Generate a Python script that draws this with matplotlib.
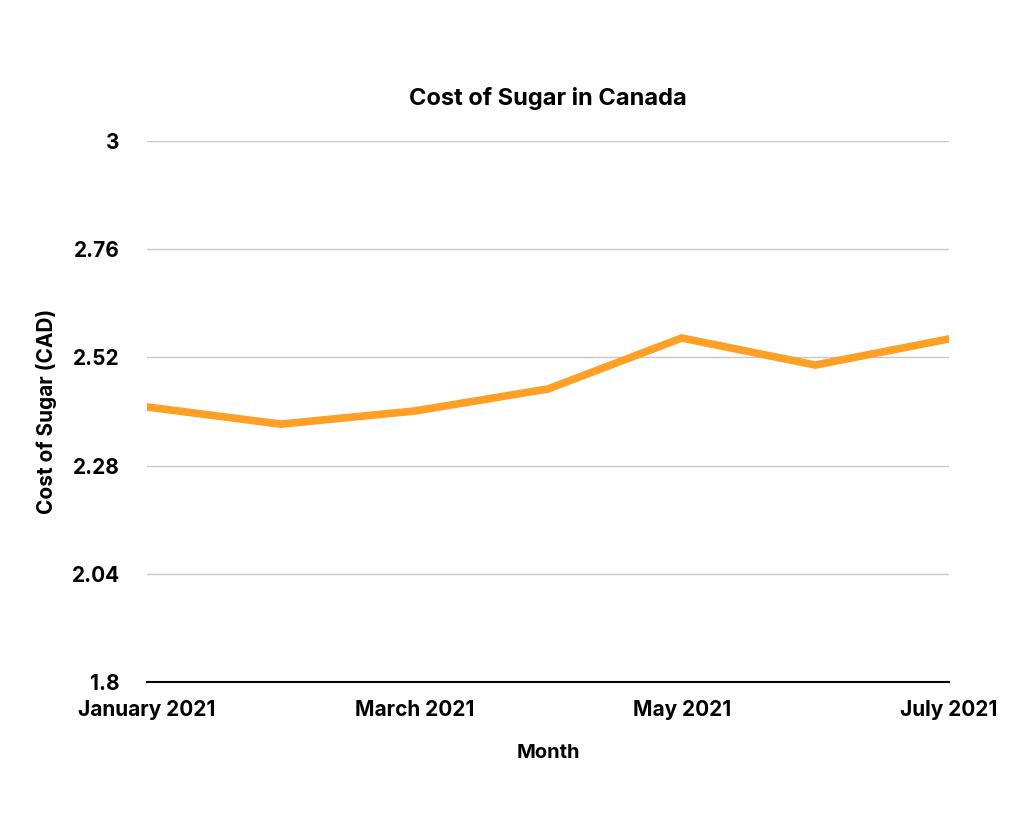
import matplotlib
matplotlib.use("Agg")
import matplotlib.pyplot as plt

# Données
mois = ['January 2021', 'February 2021', 'March 2021', 'April 2021',
        'May 2021', 'June 2021', 'July 2021']
cout_sucre = [2.41, 2.372, 2.401, 2.45, 2.563, 2.503, 2.561]
y_ticks = [1.8, 2.04, 2.28, 2.52, 2.76, 3]
y_tick_labels = ['1.8', '2.04', '2.28', '2.52', '2.76', '3']

plt.rcParams['font.family'] = ['Inter', 'DejaVu Sans']
plt.rcParams['font.weight'] = 'bold'

fig = plt.figure(figsize=(10.24, 8.22), dpi=100)
ax = fig.add_axes([0.1436, 0.1703, 0.7832, 0.6582])

x = list(range(len(mois)))
ax.plot(x, cout_sucre, color='#FF9F24', linewidth=5.5, solid_joinstyle='miter', zorder=3)

ax.set_xlim(0, len(mois) - 1)
ax.set_ylim(1.8, 3)
ax.set_yticks(y_ticks)
ax.set_yticklabels(y_tick_labels)
ax.set_xticks(x[::2])
ax.set_xticklabels(mois[::2])

ax.grid(axis='y', color='#c8c8c8', linewidth=1)
ax.set_axisbelow(True)
for s in ['top', 'right', 'left']:
    ax.spines[s].set_visible(False)
ax.spines['bottom'].set_color('black')
ax.spines['bottom'].set_linewidth(1.5)
ax.spines['bottom'].set_zorder(4)
ax.tick_params(axis='both', length=0, labelsize=15)
ax.tick_params(axis='y', pad=19.5)
ax.tick_params(axis='x', pad=13)

ax.set_title('Cost of Sugar in Canada', fontsize=17, fontweight='bold', pad=26)
ax.set_xlabel('Month', fontsize=14.5, fontweight='bold', labelpad=17)
ax.set_ylabel('Cost of Sugar (CAD)', fontsize=15, fontweight='bold', labelpad=11)

fig.savefig('out.png', dpi=100, facecolor='white')
